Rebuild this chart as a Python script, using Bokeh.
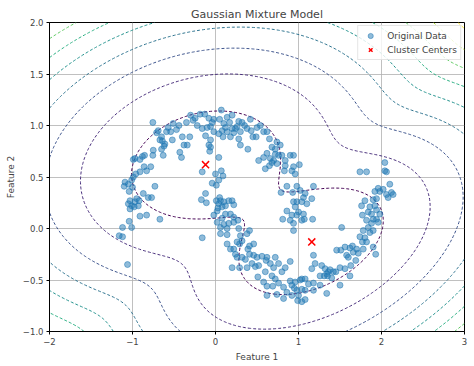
import numpy as np
from bokeh.plotting import figure
from bokeh.models import FixedTicker, Legend, LegendItem, Range1d
from bokeh.embed import file_html
from bokeh.resources import INLINE

pts = [
(-0.755,1.03),(-0.71,0.93),(-0.65,0.89),(-0.64,0.85),(-0.61,0.82),(-0.67,0.86),(-0.59,0.94),(-0.54,0.94),(-0.52,0.86),(-0.51,1.02),(-0.44,1.0),(-0.40,0.89),(-0.38,0.81),(-0.34,0.81),(-0.41,0.69),(-0.43,0.74),(-0.31,0.89),(-0.63,0.71),(-0.75,0.76),(-0.755,0.71),(-0.855,0.71),(-0.97,0.68),(-0.99,0.67),(-0.91,0.67),(-0.78,0.60),(-0.86,0.60),(-0.83,0.56),(-0.91,0.55),(-0.96,0.53),(-0.99,0.50),(-1.09,0.45),(-1.10,0.41),(-1.05,0.43),(-1.01,0.47),(-0.73,0.41),(-0.87,0.34),(-0.95,0.29),(-1.03,0.27),(-1.05,0.24),(-1.01,0.22),(-0.97,0.26),(-0.92,0.27),(-0.81,0.30),(-0.77,0.30),(-0.93,0.22),(-0.91,0.12),(-0.83,0.13),(-0.67,0.09),(-1.04,0.07),(-1.01,0.01),(-1.12,0.01),(-1.16,-0.07),(-1.12,-0.08),(-1.06,-0.35),(-0.69,0.95),
(-1.0,0.40),(-1.04,0.36),(-0.98,0.21),(-1.03,0.19),(-0.65,0.77),(-0.62,0.80),(-0.57,0.98),(-0.47,0.96),(-0.88,0.70),
(-0.30,1.10),(-0.245,1.07),(-0.185,1.11),(-0.13,1.11),(-0.08,1.07),(-0.02,1.06),(0.05,1.06),(0.07,1.15),(0.14,1.08),(0.20,1.10),(0.28,1.04),(0.32,1.03),(0.42,1.06),(0.43,0.95),(0.50,0.98),(0.54,1.00),(-0.22,1.0),(-0.16,0.97),(-0.10,0.98),(-0.06,0.99),(-0.12,0.90),(-0.06,0.86),(-0.02,0.94),(0.04,0.92),(0.08,0.95),(0.09,0.89),(0.14,0.94),(0.20,0.97),(0.24,0.97),(0.26,0.99),(0.30,0.94),(0.38,0.97),(0.18,0.89),(0.28,0.87),(0.30,0.81),(0.39,0.77),(-0.08,0.81),(-0.06,0.79),(-0.07,0.75),(0.04,0.69),(0.45,0.89),(0.49,0.89),(0.58,0.94),(0.62,0.94),(0.65,0.87),(0.68,0.79),(0.72,0.77),(0.74,0.84),(0.78,0.81),(0.80,0.71),(0.76,0.71),(0.62,0.73),(0.66,0.68),(0.58,0.69),(0.52,0.66),(0.70,0.66),(0.74,0.63),(0.84,0.66),(0.90,0.71),(0.94,0.71),(0.84,0.61),(0.94,0.60),(1.01,0.62),(0.83,0.56),(0.60,0.58),(0.65,0.61),
(-0.35,1.03),(-0.27,1.05),(0.10,1.02),(0.17,1.03),(0.35,1.00),(0.22,0.93),(0.12,0.98),(-0.04,1.03),(0.72,0.72),(0.68,0.64),
(-0.16,0.55),(0.00,0.53),(0.07,0.56),(0.09,0.51),(0.04,0.47),(-0.04,0.44),(0.01,0.42),(-0.12,0.34),(-0.17,0.28),(-0.11,0.25),(0.01,0.27),(0.04,0.24),(0.06,0.27),(0.10,0.26),(0.16,0.27),(0.20,0.27),(0.22,0.23),(0.08,0.21),(0.02,0.17),(0.12,0.14),(0.18,0.14),(0.22,0.11),(-0.02,0.13),(0.02,0.06),(0.06,0.01),(0.10,0.04),(0.14,-0.00),(0.16,0.05),(0.22,0.06),(0.06,-0.05),(-0.16,-0.09),(0.27,0.08),(0.28,0.00),(0.14,-0.06),
(0.05,0.30),(0.12,0.22),(0.03,0.20),(0.08,0.10),
(0.14,-0.15),(0.18,-0.20),(0.22,-0.20),(0.29,-0.15),(0.26,-0.13),(0.32,-0.12),(0.30,-0.07),(0.41,-0.02),(0.38,-0.05),(0.41,-0.17),(0.46,-0.15),(0.39,-0.20),(0.26,-0.28),(0.24,-0.25),(0.32,-0.28),(0.41,-0.25),(0.46,-0.26),(0.44,-0.34),(0.48,-0.37),(0.38,-0.38),(0.29,-0.38),(0.20,-0.38),(0.50,-0.28),(0.56,-0.27),(0.62,-0.28),(0.72,-0.28),(0.76,-0.34),(0.70,-0.38),(0.66,-0.34),(0.61,-0.31),(0.60,-0.42),(0.80,-0.42),(0.90,-0.32),(0.84,-0.38),(0.51,-0.47),(0.58,-0.52),(0.62,-0.56),(0.69,-0.56),(0.72,-0.49),(0.76,-0.53),(0.82,-0.57),(0.92,-0.55),(0.90,-0.51),(0.96,-0.52),(1.02,-0.50),(1.04,-0.49),(1.08,-0.49),(1.12,-0.54),(1.18,-0.53),(0.62,-0.65),(0.74,-0.64),(0.82,-0.68),(0.92,-0.65),(0.99,-0.70),(1.04,-0.71),(1.08,-0.69),(0.98,-0.60),(1.04,-0.59),(1.08,-0.60),(0.86,-0.62),(1.18,-0.60),(1.26,-0.55),(1.34,-0.63),(1.36,-0.42),(1.32,-0.39),(1.38,-0.40),(1.35,-0.46),(1.31,-0.46),(1.26,-0.46),(1.42,-0.42),(1.45,-0.42),(1.20,-0.34),(1.16,-0.39),(1.28,-0.36),(1.18,-0.26),(1.50,-0.38),(1.56,-0.39),(1.62,-0.46),(1.50,-0.55),(1.63,-0.36),(1.69,-0.31),
(0.36,-0.30),(0.52,-0.36),(0.68,-0.46),(0.95,-0.58),(1.00,-0.65),(1.34,-0.44),(1.40,-0.48),
(1.46,-0.21),(1.51,-0.21),(1.56,-0.18),(1.58,-0.26),(1.62,-0.19),(1.65,-0.17),(1.66,-0.23),(1.70,-0.20),(1.74,-0.08),(1.77,-0.13),(1.80,-0.09),(1.78,-0.20),(1.82,-0.13),(1.90,-0.18),(1.93,-0.25),(1.52,0.01),(1.84,0.01),(1.86,-0.04),(1.90,-0.02),(1.78,-0.02),(1.82,0.08),(1.77,0.13),(1.84,0.16),(1.88,0.14),(1.90,0.09),(1.94,0.09),(1.96,0.06),(1.86,0.21),(1.94,0.18),(1.98,0.14),(1.76,0.22),(1.80,0.27),(1.90,0.28),(1.94,0.29),(1.96,0.39),(2.02,0.38),(2.06,0.33),(2.08,0.30),(2.12,0.35),(2.14,0.33),(2.10,0.43),(2.04,0.56),(2.06,0.55),(2.04,0.64),(1.98,0.36),(1.92,0.36),(1.74,0.55),(1.82,0.55),
(1.60,-0.28),(1.72,-0.24),(1.88,0.05),(1.92,0.22),
(0.86,0.41),(0.98,0.41),(1.18,0.41),(1.02,0.37),(1.08,0.34),(0.93,0.35),(1.06,0.30),(1.16,0.29),(0.94,0.26),(0.98,0.26),(1.04,0.26),(1.10,0.24),(0.86,0.17),(0.96,0.21),(1.00,0.16),(0.92,0.13),(0.98,0.13),(1.06,0.14),(0.81,0.09),(0.90,0.08),(1.04,0.08),(1.07,0.09),(0.94,0.05),(0.94,-0.02),(1.17,0.09),(0.79,0.35),(0.92,0.56),(0.96,0.53),
]
data_x = [p[0] for p in pts]
data_y = [p[1] for p in pts]

# cluster centers (red crosses) = GMM component means
center_x = [-0.12, 1.16]
center_y = [0.62, -0.13]
# remaining GMM parameters (weights, covariances) of the two components
gmm_weights = [0.529, 0.471]
gmm_cov_xx = [0.369, 0.323]
gmm_cov_xy = [0.039, 0.077]
gmm_cov_yy = [0.126, 0.114]
# negative log-likelihood contour levels and their colours
nll_levels = [2, 4, 6, 8, 10, 12, 14, 16, 18]
level_colors = ["#440154", "#472d7b", "#3b528b", "#2c728e", "#21918c",
                "#28ae80", "#5ec962", "#addc30", "#fde725"]

x_ticks = [-2, -1, 0, 1, 2, 3]
x_tick_labels = ["\u22122", "\u22121", "0", "1", "2", "3"]
y_ticks = [-1.0, -0.5, 0.0, 0.5, 1.0, 1.5, 2.0]
y_tick_labels = ["\u22121.0", "\u22120.5", "0.0", "0.5", "1.0", "1.5", "2.0"]

gx = np.linspace(-2, 3, 300)
gy = np.linspace(-1, 2, 200)
GX, GY = np.meshgrid(gx, gy)
dens = np.zeros_like(GX)
for k in range(2):
    a, b, c = gmm_cov_xx[k], gmm_cov_xy[k], gmm_cov_yy[k]
    det = a * c - b * b
    dx = GX - center_x[k]
    dy = GY - center_y[k]
    md = (c * dx * dx - 2 * b * dx * dy + a * dy * dy) / det
    dens += gmm_weights[k] * np.exp(-0.5 * md) / (2 * np.pi * np.sqrt(det))
Z = -np.log(dens)

p = figure(width=472, height=364, output_backend="svg", toolbar_location=None,
           x_range=Range1d(-2, 3), y_range=Range1d(-1, 2),
           title="Gaussian Mixture Model", min_border_left=49, min_border_right=8,
           min_border_top=22, min_border_bottom=33)
p.contour(gx, gy, Z, nll_levels, line_color=level_colors, line_width=1, line_dash="3 2",
          fill_color=None)
sc = p.scatter(data_x, data_y, size=6, color="#1f77b4", alpha=0.5)
cc = p.scatter(center_x, center_y, marker="x", size=10, line_color="red", line_width=1.5)

legend = Legend(items=[LegendItem(label="Original Data", renderers=[sc]),
                       LegendItem(label="Cluster Centers", renderers=[cc])],
                location="top_right", label_text_font_size="9px", label_text_font="DejaVu Sans",
                padding=3, spacing=1, margin=3, glyph_height=13, glyph_width=18,
                label_height=13, label_standoff=8, border_line_color="#cccccc",
                background_fill_alpha=0.8)
p.add_layout(legend)
p.title.text_font = "DejaVu Sans"
p.title.text_font_size = "11px"
p.title.text_font_style = "normal"
p.title.align = "center"
p.title.standoff = 3
for ax in [p.xaxis[0], p.yaxis[0]]:
    ax.major_label_text_font = "DejaVu Sans"
    ax.major_label_text_font_size = "8.5px"
    ax.axis_label_text_font = "DejaVu Sans"
    ax.axis_label_text_font_size = "9px"
    ax.axis_label_text_font_style = "normal"
    ax.minor_tick_line_color = None
    ax.major_tick_in = 0
    ax.major_tick_out = 3
    ax.major_label_standoff = 3
    ax.axis_label_standoff = 4
p.xaxis.axis_label = "Feature 1"
p.yaxis.axis_label = "Feature 2"
p.xaxis.ticker = FixedTicker(ticks=x_ticks)
p.yaxis.ticker = FixedTicker(ticks=y_ticks)
p.xaxis.major_label_overrides = {t: l for t, l in zip(x_ticks, x_tick_labels)}
p.yaxis.major_label_overrides = {t: l for t, l in zip(y_ticks, y_tick_labels)}
p.grid.grid_line_color = "#b0b0b0"
p.grid.grid_line_width = 0.8
p.outline_line_color = "black"

open("out.html", "w").write(file_html(p, INLINE))
